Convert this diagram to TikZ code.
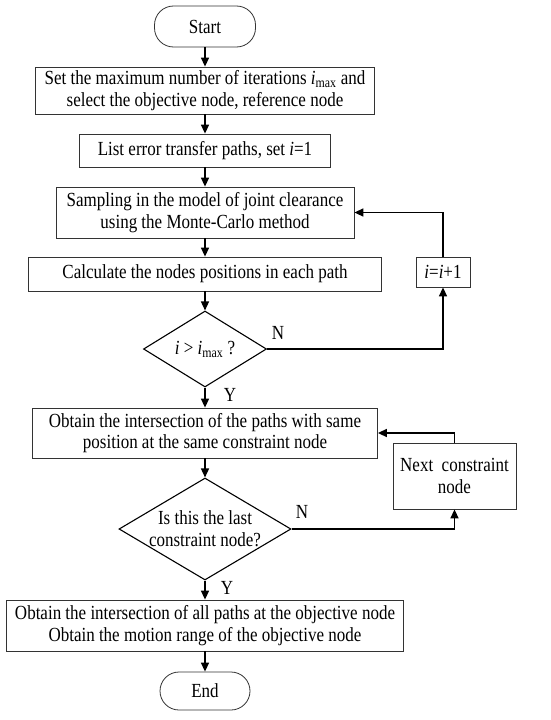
\documentclass[tikz,border=0pt]{standalone}
\usepackage{fontspec}
\setmainfont{Liberation Serif}[FakeStretch=0.85]
\usepackage{tikz}
\usetikzlibrary{arrows.meta, positioning, shapes.geometric, calc}

\begin{document}
\begin{tikzpicture}[x=1pt, y=-1pt,
    every node/.style={font=\fontsize{20}{21.7}\selectfont},
    procbox/.style={rectangle, draw=black!80, line width=0.8pt, inner sep=0pt, align=center},
    termbox/.style={rectangle, draw=black!80, line width=0.8pt, rounded corners=19pt, inner sep=0pt},
    decision/.style={diamond, draw, line width=1.1pt, inner sep=0pt},
    flow/.style={-{Triangle[length=9pt, width=8pt]}, line width=1.5pt}]
    \useasboundingbox (0,0) rectangle (550,720);

    % main column
    \node[termbox, minimum width=101, minimum height=41] (start) at (205,26.5) {Start};
    \node[procbox, minimum width=339, minimum height=47] (setmax) at (205,90.5)
        {Set the maximum number of iterations \textit{i}\textsubscript{max} and\\select the objective node, reference node};
    \node[procbox, minimum width=251, minimum height=33] (list) at (205,150.5)
        {List error transfer paths, set \textit{i}=1};
    \node[procbox, minimum width=298, minimum height=51] (sample) at (205,212.5)
        {Sampling in the model of joint clearance\\using the Monte-Carlo method};
    \node[procbox, minimum width=353, minimum height=34] (calc) at (205,274)
        {Calculate the nodes positions in each path};
    \node[decision, minimum width=123, minimum height=76,
        label={center:\textit{i} > \textit{i}\textsubscript{max} ?}] (check) at (205,349) {};
    \node[procbox, minimum width=345, minimum height=50] (inter) at (205,433)
        {Obtain the intersection of the paths with same\\position at the same constraint node};
    \node[decision, minimum width=172, minimum height=102,
        label={[align=center]center:Is this the last\\constraint node?}] (last) at (205,529) {};
    \node[procbox, minimum width=397, minimum height=51] (final) at (205,625.5)
        {Obtain the intersection of all paths at the objective node\\Obtain the motion range of the objective node};
    \node[termbox, minimum width=90, minimum height=38] (stop) at (205,691) {End};

    % side boxes
    \node[procbox, minimum width=54, minimum height=30] (iplus) at (443,272) {\textit{i}=\textit{i}+1};
    \node[procbox, minimum width=123, minimum height=66] (next) at (454.5,476) {Next\ \ constraint\\node};

    % downward arrows
    \draw[flow] (start) -- (setmax);
    \draw[flow] (setmax) -- (list);
    \draw[flow] (list) -- (sample);
    \draw[flow] (sample) -- (calc);
    \draw[flow] (calc) -- (check);
    \draw[flow] (check) -- (inter);
    \draw[flow] (inter) -- (last);
    \draw[flow] (last) -- (final);
    \draw[flow] (final) -- (stop);

    % loops
    \draw[flow] (check.east) -| (iplus.south);
    \draw[flow] (iplus.north) |- (sample.east);
    \draw[flow] (last.east) -| (next.south);
    \draw[flow] (next.north) |- (inter.east);

    % branch labels
    \node (n1) at (278,333) {N};
    \node (y1) at (230,395) {Y};
    \node (n2) at (302,512) {N};
    \node (y2) at (227,588) {Y};
\end{tikzpicture}
\end{document}
